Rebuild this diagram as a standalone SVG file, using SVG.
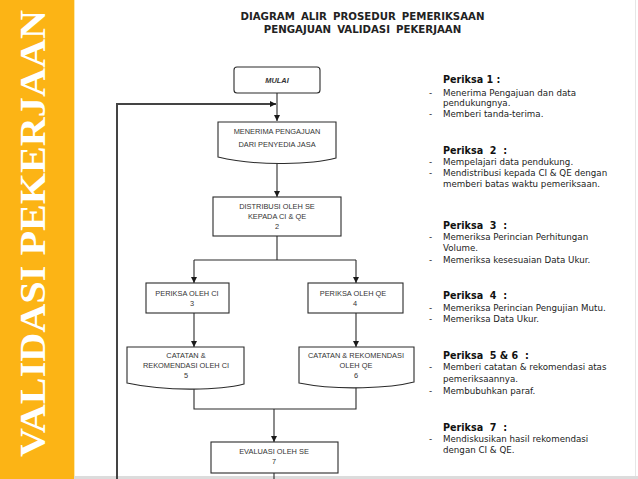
<svg xmlns="http://www.w3.org/2000/svg" width="638" height="479" viewBox="0 0 638 479">
<style>
.box{fill:#fff;stroke:#2b2b2b;stroke-width:1.1}
.fc{font-family:"Liberation Sans",Arial,sans-serif;font-size:7.4px;fill:#333;text-anchor:middle}
.con{fill:none;stroke:#2b2b2b;stroke-width:1.1}
.side{font-family:"DejaVu Sans",Verdana,sans-serif;font-size:8.7px;fill:#222;white-space:pre}
.hd{font-weight:bold;font-size:9.6px;fill:#111}
.title{font-family:"DejaVu Sans",Verdana,sans-serif;font-weight:bold;font-size:10.2px;fill:#222;text-anchor:middle;word-spacing:2.5px}
</style>
<defs>
<marker id="arr" markerWidth="6" markerHeight="6" refX="6" refY="3" orient="auto" markerUnits="userSpaceOnUse">
<path d="M0,0 L6,3 L0,6 Z" fill="#1a1a1a"/>
</marker>
</defs>
<rect x="0" y="0" width="638" height="479" fill="#fff"/>
<rect x="0" y="0" width="74" height="479" fill="#FCB415"/>
<line x1="74.5" y1="0" x2="74.5" y2="479" stroke="#FDE8A8" stroke-width="1"/>
<text transform="translate(45,233.5) rotate(-90)" text-anchor="middle" font-family="Liberation Serif,Times New Roman,serif" font-weight="bold" font-size="36" fill="#fff" textLength="447" lengthAdjust="spacingAndGlyphs">VALIDASI PEKERJAAN</text>
<line x1="635.5" y1="0" x2="635.5" y2="479" stroke="#e6e6e6" stroke-width="1"/>
<rect x="74" y="476" width="564" height="3" fill="#dcdcdc"/>

<g id="title">
<text class="title" x="362.5" y="20">DIAGRAM ALIR PROSEDUR PEMERIKSAAN</text>
<text class="title" x="362.5" y="33">PENGAJUAN VALIDASI PEKERJAAN</text>
</g>

<g id="connectors">
<path class="con" d="M277,93 V121" marker-end="url(#arr)"/>
<path d="M117,479 V104 H276" fill="none" stroke="#444" stroke-width="2" marker-end="url(#arr)"/>
<path class="con" d="M277,160 V197" marker-end="url(#arr)"/>
<path class="con" d="M277,236 V260 M194,260 H356"/>
<path class="con" d="M194,260 V283" marker-end="url(#arr)"/>
<path class="con" d="M356,260 V283" marker-end="url(#arr)"/>
<path class="con" d="M194,313 V347" marker-end="url(#arr)"/>
<path class="con" d="M356,313 V347" marker-end="url(#arr)"/>
<path class="con" d="M194,384 V409 H356 V383"/>
<path class="con" d="M274,409 V442" marker-end="url(#arr)"/>
<path class="con" d="M274,473 V479"/>
</g>

<g id="mulai">
<rect class="box" x="234" y="67" width="86" height="26" rx="3"/>
<text class="fc" x="277" y="83" font-weight="bold" font-style="italic" font-size="8px">MULAI</text>
</g>

<g id="menerima">
<path class="box" d="M218,122 H336 V158 C313.5,164 259.3,167 218,157 Z"/>
<text class="fc" x="277" y="134">MENERIMA PENGAJUAN</text>
<text class="fc" x="277" y="147">DARI PENYEDIA JASA</text>
</g>

<g id="distribusi">
<rect class="box" x="213" y="197" width="128" height="39"/>
<text class="fc" x="277" y="209">DISTRIBUSI OLEH SE</text>
<text class="fc" x="277" y="219">KEPADA CI &amp; QE</text>
<text class="fc" x="277" y="229">2</text>
</g>

<g id="periksa-ci">
<rect class="box" x="146" y="283" width="83" height="30"/>
<text class="fc" x="187" y="296">PERIKSA OLEH CI</text>
<text class="fc" x="192" y="306">3</text>
</g>

<g id="periksa-qe">
<rect class="box" x="308" y="283" width="95" height="30"/>
<text class="fc" x="353" y="296">PERIKSA OLEH QE</text>
<text class="fc" x="355" y="306">4</text>
</g>

<g id="catatan-ci">
<path class="box" d="M127,347 H244 V384 C221,390 168,392 127,383 Z"/>
<text class="fc" x="186" y="358">CATATAN &amp;</text>
<text class="fc" x="186" y="368">REKOMENDASI OLEH CI</text>
<text class="fc" x="186" y="378">5</text>
</g>

<g id="catatan-qe">
<path class="box" d="M299,347 H414 V382 C391,388 339,391 299,383 Z"/>
<text class="fc" x="356" y="358">CATATAN &amp; REKOMENDASI</text>
<text class="fc" x="356" y="368">OLEH QE</text>
<text class="fc" x="356" y="378">6</text>
</g>

<g id="evaluasi">
<rect class="box" x="211" y="442" width="127" height="31"/>
<text class="fc" x="274" y="454">EVALUASI OLEH SE</text>
<text class="fc" x="274" y="464">7</text>
</g>

<g id="notes">
<text class="side hd" x="443" y="83">Periksa 1 :</text>
<text class="side" x="429" y="96">-</text><text class="side" x="443" y="96">Menerima Pengajuan dan data</text>
<text class="side" x="443" y="106">pendukungnya.</text>
<text class="side" x="429" y="117">-</text><text class="side" x="443" y="117">Memberi tanda-terima.</text>

<text class="side hd" x="443" y="154">Periksa  2  :</text>
<text class="side" x="429" y="165">-</text><text class="side" x="443" y="165">Mempelajari data pendukung.</text>
<text class="side" x="429" y="176">-</text><text class="side" x="443" y="176">Mendistribusi kepada CI &amp; QE dengan</text>
<text class="side" x="443" y="187">memberi batas waktu pemeriksaan.</text>

<text class="side hd" x="443" y="229">Periksa  3  :</text>
<text class="side" x="429" y="240">-</text><text class="side" x="443" y="240">Memeriksa Perincian Perhitungan</text>
<text class="side" x="443" y="251">Volume.</text>
<text class="side" x="429" y="263">-</text><text class="side" x="443" y="263">Memeriksa kesesuaian Data Ukur.</text>

<text class="side hd" x="443" y="299">Periksa  4  :</text>
<text class="side" x="429" y="311">-</text><text class="side" x="443" y="311">Memeriksa Perincian Pengujian Mutu.</text>
<text class="side" x="429" y="322">-</text><text class="side" x="443" y="322">Memeriksa Data Ukur.</text>

<text class="side hd" x="443" y="359">Periksa  5 &amp; 6  :</text>
<text class="side" x="429" y="370">-</text><text class="side" x="443" y="370">Memberi catatan &amp; rekomendasi atas</text>
<text class="side" x="443" y="382">pemeriksaannya.</text>
<text class="side" x="429" y="394">-</text><text class="side" x="443" y="394">Membubuhkan paraf.</text>

<text class="side hd" x="443" y="431">Periksa  7  :</text>
<text class="side" x="429" y="442">-</text><text class="side" x="443" y="442">Mendiskusikan hasil rekomendasi</text>
<text class="side" x="443" y="453">dengan CI &amp; QE.</text>
</g>
</svg>
